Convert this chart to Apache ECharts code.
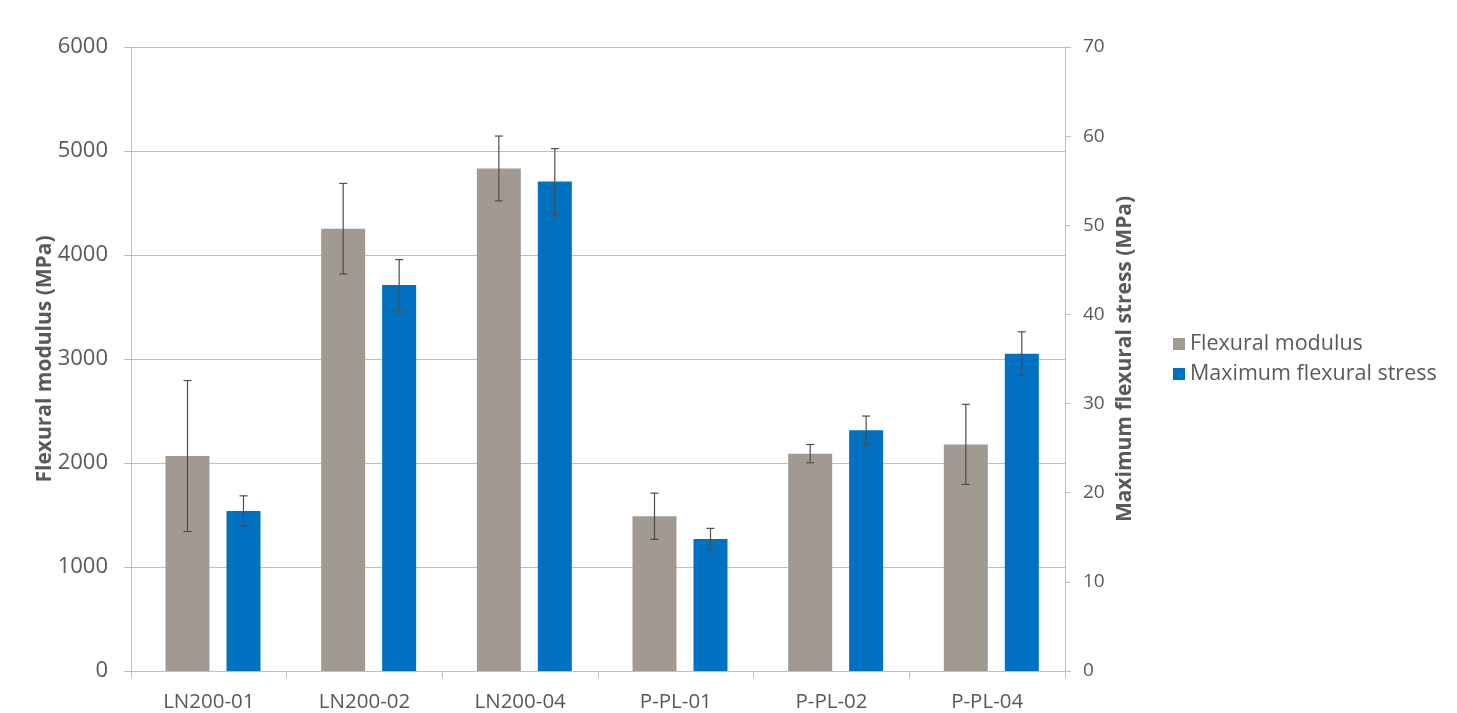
<!DOCTYPE html>
<html>
<head>
<meta charset="utf-8">
<script src="https://cdn.jsdelivr.net/npm/echarts@6/dist/echarts.min.js"></script>
<style>html,body{margin:0;padding:0;background:#fff}#c{width:1457px;height:713px}</style>
</head>
<body>
<div id="c"></div>
<script>
var categories = ['LN200-01','LN200-02','LN200-04','P-PL-01','P-PL-02','P-PL-04'];
var modulus = [2067, 4253, 4832, 1488, 2090, 2179];
var modulusErr = [726, 435, 312, 222, 88, 385];
var stress = [17.95, 43.3, 54.9, 14.8, 27.0, 35.6];
var stressErr = [1.7, 2.85, 3.7, 1.2, 1.6, 2.45];
var leftTicks = [0, 1000, 2000, 3000, 4000, 5000, 6000];
var rightTicks = [0, 10, 20, 30, 40, 50, 60, 70];

// bar layout (styles): an empty spacer slot shifts the pair slightly right, as in the source
var W_SP = 6, W_GRAY = 44, W_BLUE = 34, GAP = 0.386;
var totalW = W_SP * (1 + GAP) + W_GRAY * (1 + GAP) + W_BLUE;
var offGray = -totalW / 2 + W_SP * (1 + GAP) + W_GRAY / 2;
var offBlue = -totalW / 2 + W_SP * (1 + GAP) + W_GRAY * (1 + GAP) + W_BLUE / 2;

function errSeries(vals, errs, yIdx, off) {
  return {
    type: 'custom',
    yAxisIndex: yIdx,
    z: 10,
    silent: true,
    data: vals.map(function (v, i) { return [i, v, errs[i]]; }),
    renderItem: function (params, api) {
      var i = api.value(0), v = api.value(1), e = api.value(2);
      var top = api.coord([i, v + e]);
      var bot = api.coord([i, v - e]);
      var x = top[0] + off;
      var cap = 4;
      var st = { stroke: '#4d4d4d', lineWidth: 1.2 };
      return {
        type: 'group',
        children: [
          { type: 'line', shape: { x1: x, y1: top[1], x2: x, y2: bot[1] }, style: st },
          { type: 'line', shape: { x1: x - cap, y1: top[1], x2: x + cap, y2: top[1] }, style: st },
          { type: 'line', shape: { x1: x - cap, y1: bot[1], x2: x + cap, y2: bot[1] }, style: st }
        ]
      };
    }
  };
}

var chart = echarts.init(document.getElementById('c'));
var font = '"Open Sans", "Noto Sans", sans-serif';
chart.setOption({
  animation: false,
  textStyle: { fontFamily: font },
  grid: { left: 131, right: 392, top: 47, bottom: 41 },
  legend: {
    orient: 'vertical',
    left: 1168,
    top: 328,
    itemWidth: 12,
    itemHeight: 12,
    itemGap: 8,
    icon: 'rect',
    textStyle: { fontSize: 21.5, color: '#595959', fontFamily: font },
    data: ['Flexural modulus', 'Maximum flexural stress']
  },
  xAxis: {
    type: 'category',
    data: categories,
    axisLine: { lineStyle: { color: '#bfbfbf', width: 1 } },
    axisTick: { show: true, length: 7, lineStyle: { color: '#bfbfbf' } },
    axisLabel: { fontSize: 20.5, color: '#595959', margin: 21, fontFamily: font },
    splitLine: { show: false }
  },
  yAxis: [{
    type: 'value',
    min: 0, max: 6000, interval: 1000,
    position: 'left',
    name: 'Flexural modulus (MPa)',
    nameLocation: 'middle',
    nameRotate: 90,
    nameGap: 75,
    nameMoveOverlap: false,
    nameTextStyle: { fontSize: 21, fontWeight: 'bold', color: '#595959', fontFamily: font },
    axisLine: { show: true, lineStyle: { color: '#bfbfbf' } },
    axisTick: { show: true, length: 7, lineStyle: { color: '#bfbfbf' } },
    axisLabel: { fontSize: 22, color: '#595959', margin: 23, fontFamily: font,
      formatter: function (v) { return leftTicks.indexOf(v) >= 0 ? String(v) : ''; } },
    splitLine: { show: true, lineStyle: { color: '#bfbfbf', width: 1 } }
  }, {
    type: 'value',
    min: 0, max: 70, interval: 10,
    position: 'right',
    name: 'Maximum flexural stress (MPa)',
    nameLocation: 'middle',
    nameRotate: 90,
    nameGap: 50,
    nameMoveOverlap: false,
    nameTextStyle: { fontSize: 21, fontWeight: 'bold', color: '#595959', fontFamily: font },
    axisLine: { show: true, lineStyle: { color: '#bfbfbf' } },
    axisTick: { show: true, length: 6, lineStyle: { color: '#bfbfbf' } },
    axisLabel: { fontSize: 19, color: '#595959', margin: 18, fontFamily: font,
      formatter: function (v) { return rightTicks.indexOf(v) >= 0 ? String(v) : ''; } },
    splitLine: { show: false }
  }],
  series: [{
    name: 'spacer',
    type: 'bar',
    yAxisIndex: 0,
    barWidth: W_SP,
    barGap: (GAP * 100) + '%',
    silent: true,
    itemStyle: { color: 'rgba(0,0,0,0)' },
    data: []
  }, {
    name: 'Flexural modulus',
    type: 'bar',
    yAxisIndex: 0,
    barWidth: W_GRAY,
    barGap: (GAP * 100) + '%',
    itemStyle: { color: '#a09a93' },
    data: modulus
  }, {
    name: 'Maximum flexural stress',
    type: 'bar',
    yAxisIndex: 1,
    barWidth: W_BLUE,
    barGap: (GAP * 100) + '%',
    itemStyle: { color: '#0070c0' },
    data: stress
  },
  errSeries(modulus, modulusErr, 0, offGray),
  errSeries(stress, stressErr, 1, offBlue)
  ]
});
</script>
</body>
</html>
